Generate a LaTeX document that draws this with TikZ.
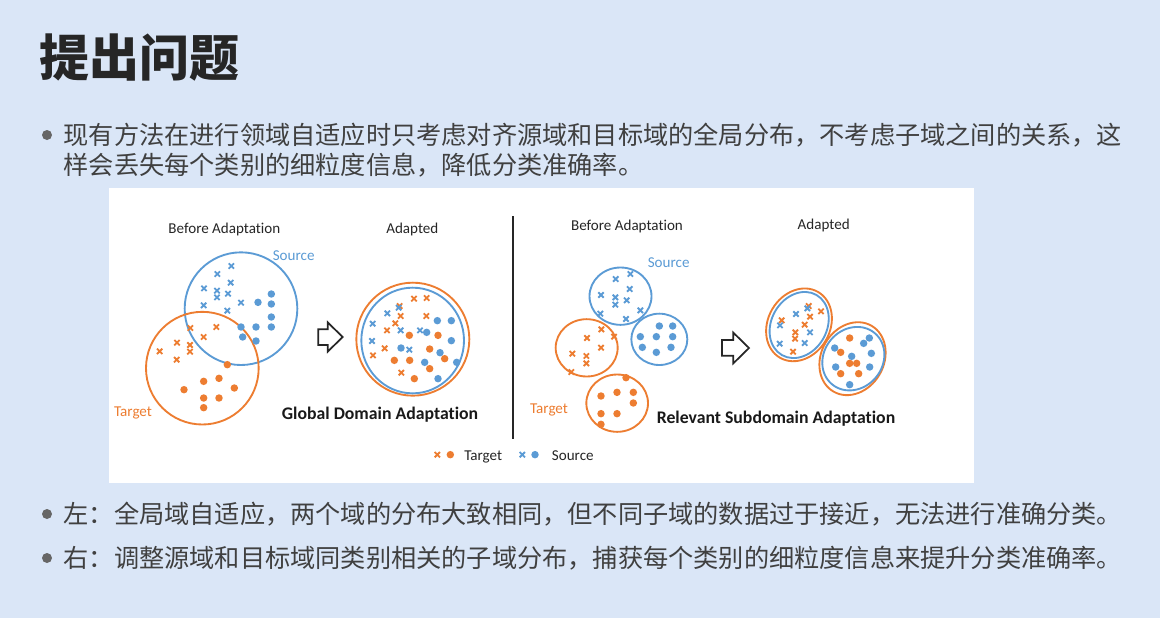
\documentclass[tikz,border=0pt]{standalone}
\usepackage{fontspec}
\usepackage{xcolor}
\setmainfont{Carlito}[Ligatures=CommonOff]
\newfontfamily\cjkfont{Noto Sans CJK SC}
\usetikzlibrary{shapes.misc,positioning}
\definecolor{slidebg}{HTML}{DAE6F7}
\definecolor{srcblue}{HTML}{5B9BD5}
\definecolor{tgtorange}{HTML}{ED7D31}
\definecolor{bodygray}{HTML}{404040}
\tikzset{
    dotmark/.style={circle,fill,inner sep=0pt,minimum size=5.6pt},
    crossmark/.style={cross out,draw,inner sep=0pt,minimum size=2.6pt,line width=1.4pt},
    ringline/.style={line width=1.4pt},
    bigarrow/.style={draw=black!85,line width=1.3pt,fill=white,line join=miter},
    smalltext/.style={font=\fontsize{11.3pt}{13pt}\selectfont,text=black!85},
    headtext/.style={font=\fontsize{13.3pt}{15pt}\selectfont\bfseries,text=black!90},
    bullettext/.style={font=\cjkfont\fontsize{18.9pt}{22.5pt}\selectfont,text=bodygray,anchor=west,align=left,inner sep=0pt},
    bulletdot/.style={circle,fill=black!60,inner sep=0pt,minimum size=7.5pt}
}
\begin{document}
\begin{tikzpicture}[x=0.75pt,y=-0.75pt]
    \useasboundingbox (0,0) rectangle (1160,618);
    \fill[slidebg] (0,0) rectangle (1160,618);
    \node[font=\cjkfont\fontsize{37.5pt}{40pt}\selectfont\bfseries,text=black!85,anchor=west,inner sep=0pt] (title) at (39,58) {提出问题};
    \node[bulletdot] (bulleta) at (47,135) {};
    \node[bullettext] (linea) at (63.5,150) {现有方法在进行领域自适应时只考虑对齐源域和目标域的全局分布，不考虑子域之间的关系，这\\样会丢失每个类别的细粒度信息，降低分类准确率。};
    \fill[white] (109,188) rectangle (974,483);
    \node[bulletdot] (bulletb) at (47,514) {};
    \node[bullettext] (lineb) at (63.5,514) {左：全局域自适应，两个域的分布大致相同，但不同子域的数据过于接近，无法进行准确分类。};
    \node[bulletdot] (bulletc) at (47,558) {};
    \node[bullettext] (linec) at (63.5,558) {右：调整源域和目标域同类别相关的子域分布，捕获每个类别的细粒度信息来提升分类准确率。};
    \draw[black!85,line width=1.5pt] (513,216) -- (513,439);

    % left half
    \begin{scope}[shift={(110,190)},x=0.25pt,y=-0.25pt]
        \node[smalltext] (beforea) at (343,118) {Before Adaptation};
        \node[smalltext] (adapteda) at (907,117) {Adapted};
        \node[smalltext,text=srcblue] (sourcea) at (551,196) {Source};
        \node[smalltext,text=tgtorange] (targeta) at (69,670) {Target};
        \node[headtext] (globaltitle) at (810,674) {Global Domain Adaptation};
        \draw[ringline,srcblue] (393,356) circle (169);
        \draw[ringline,tgtorange] (277,534.5) circle (169);
        \foreach \x/\y [count=\i] in {364/228,322/252,362/278,282/295,321/302,321/322,354/311,281/346,393/338,352/362}
            \node[crossmark,srcblue] (sc\i) at (\x,\y) {};
        \foreach \x/\y [count=\i] in {444/337,484/312,484/342,484/381,393/411,438/411,484/411,398/441,438/453}
            \node[dotmark,srcblue] (sd\i) at (\x,\y) {};
        \foreach \x/\y [count=\i] in {241/414,319/411,281/441,201/458,240/465,240/485,149/484,200/509}
            \node[crossmark,tgtorange] (tc\i) at (\x,\y) {};
        \foreach \x/\y [count=\i] in {352/524,327/565,281/574,373/594,222/599,281/624,327/624,281/653}
            \node[dotmark,tgtorange] (td\i) at (\x,\y) {};
        \draw[bigarrow] (625,418) -- (653,418) -- (653,397) -- (698,441) -- (653,485) -- (653,465) -- (625,465) -- cycle;
        \draw[ringline,tgtorange] (908.5,447.5) circle (169.5);
        \draw[ringline,srcblue] (908,451.5) ellipse (154 and 158.5);
        \foreach \x/\y [count=\i] in {912/326,950/324,869/348,872/378,949/378,856/400,831/421,824/475,789/496,874/548}
            \node[crossmark,tgtorange] (atc\i) at (\x,\y) {};
        \foreach \x/\y [count=\i] in {866/353,832/370,788/401,872/421,930/421,786/453,898/479}
            \node[crossmark,srcblue] (asc\i) at (\x,\y) {};
        \foreach \x/\y [count=\i] in {982/392,1024/392,950/427,1024/452,873/474,990/488,944/517,1040/517,984/566}
            \node[dotmark,srcblue] (asd\i) at (\x,\y) {};
        \foreach \x/\y [count=\i] in {898/436,984/436,959/477,1004/506,853/511,899/511,959/536,913/566}
            \node[dotmark,tgtorange] (atd\i) at (\x,\y) {};
        \node[crossmark,tgtorange] (legtc) at (982,794) {};
        \node[dotmark,tgtorange] (legtd) at (1021,794) {};
        \node[smalltext,anchor=west,inner sep=0pt] (legt) at (1062,802) {Target};
    \end{scope}

    % right half, middle part
    \begin{scope}[shift={(510,190)},x=0.25pt,y=-0.25pt]
        \node[smalltext] (beforeb) at (351,108) {Before Adaptation};
        \node[smalltext,text=srcblue] (sourceb) at (476,218) {Source};
        \node[smalltext,text=tgtorange] (targetb) at (117,659) {Target};
        \draw[ringline,srcblue] (331.5,318.5) ellipse (93 and 86);
        \draw[ringline,srcblue] (448,448) ellipse (84 and 77);
        \draw[ringline,tgtorange] (230,473.5) ellipse (93 and 86);
        \draw[ringline,tgtorange] (321.5,639.5) ellipse (92.5 and 86);
        \foreach \x/\y [count=\i] in {361/252,317/267,359/297,273/315,316/322,316/344,350/331,271/371,391/361,348/387}
            \node[crossmark,srcblue] (bsc\i) at (\x,\y) {};
        \foreach \x/\y [count=\i] in {448/408,488/408,391/440,439/440,488/440,397/472,483/472,439/487}
            \node[dotmark,srcblue] (bsd\i) at (\x,\y) {};
        \foreach \x/\y [count=\i] in {274/418,312/440,231/444,273/473,187/491,229/498,229/520,184/546}
            \node[crossmark,tgtorange] (btc\i) at (\x,\y) {};
        \foreach \x/\y [count=\i] in {348/563,273/618,321/607,370/607,370/639,273/671,321/671,273/703}
            \node[dotmark,tgtorange] (btd\i) at (\x,\y) {};
        \node[crossmark,srcblue] (legsc) at (37,794) {};
        \node[dotmark,srcblue] (legsd) at (75,794) {};
        \node[smalltext,anchor=west,inner sep=0pt] (legs) at (125,796) {Source};
    \end{scope}

    % right half, adapted part
    \begin{scope}[shift={(700,190)},x=0.25pt,y=-0.25pt]
        \node[smalltext] (adaptedb) at (371,106) {Adapted};
        \node[headtext] (relevanttitle) at (228,685) {Relevant Subdomain Adaptation};
        \draw[bigarrow] (66,450) -- (100,450) -- (100,428) -- (147,474) -- (100,520) -- (100,497) -- (66,497) -- cycle;
        \draw[ringline,tgtorange,rotate around={60:(297,404.5)}] (297,404.5) ellipse (114 and 93);
        \draw[ringline,srcblue,rotate around={60:(297.5,405)}] (297.5,405) ellipse (104 and 83);
        \draw[ringline,tgtorange,rotate around={60:(457.5,506)}] (457.5,506) ellipse (114 and 94);
        \draw[ringline,srcblue,rotate around={50:(460,506)}] (460,506) ellipse (100 and 88);
        \foreach \x/\y [count=\i] in {326/348,363/364,330/380,245/391,314/404,286/427,285/446,279/485}
            \node[crossmark,tgtorange] (ctc\i) at (\x,\y) {};
        \foreach \x/\y [count=\i] in {322/355,288/372,240/406,330/427,239/461,314/459}
            \node[crossmark,srcblue] (csc\i) at (\x,\y) {};
        \foreach \x/\y [count=\i] in {508/444,491/460,404/474,514/490,455/499,407/531,509/531,449/584}
            \node[dotmark,srcblue] (csd\i) at (\x,\y) {};
        \foreach \x/\y [count=\i] in {449/444,422/487,449/520,470/520,422/551,476/551}
            \node[dotmark,tgtorange] (ctd\i) at (\x,\y) {};
    \end{scope}
\end{tikzpicture}
\end{document}
